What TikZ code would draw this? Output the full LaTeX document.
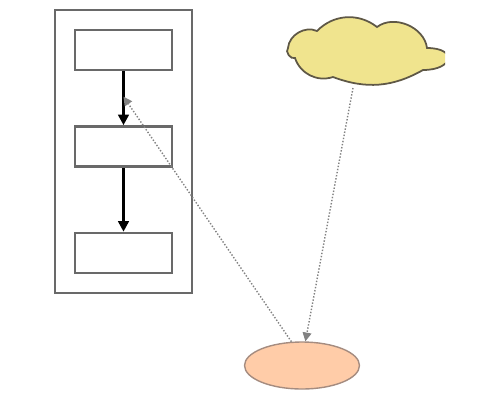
\documentclass[tikz,border=0pt]{standalone}
\usepackage{xcolor}
\usepackage{tikz}
\usetikzlibrary{positioning, arrows.meta, shapes.geometric}
\definecolor{framecolor}{RGB}{105,105,105}
\definecolor{cloudcolor}{RGB}{240,228,142}
\definecolor{cloudline}{RGB}{95,88,70}
\definecolor{ellcolor}{RGB}{255,204,168}
\definecolor{ellline}{RGB}{165,140,128}
\definecolor{linkcolor}{RGB}{130,130,130}

\begin{document}
\begin{tikzpicture}[x=0.02cm, y=-0.02cm]
    \useasboundingbox (0,0) rectangle (500,400);
    % outer frame with the three boxes
    \node[rectangle, draw=framecolor, line width=1.3pt, minimum width=2.74cm, minimum height=5.66cm] (frame) at (123.5,151.5) {};
    \node[rectangle, draw=framecolor, line width=1.5pt, minimum width=1.94cm, minimum height=0.8cm] (boxa) at (123.5,50) {};
    \node[rectangle, draw=framecolor, line width=1.5pt, minimum width=1.94cm, minimum height=0.8cm] (boxb) at (123.5,146.5) {};
    \node[rectangle, draw=framecolor, line width=1.5pt, minimum width=1.94cm, minimum height=0.8cm] (boxc) at (123.5,253) {};
    \draw[-{Triangle[length=6pt, width=6pt]}, line width=1.7pt] (boxa.south) -- coordinate[pos=0.47] (hit) (boxb.north);
    \draw[-{Triangle[length=6pt, width=6pt]}, line width=1.7pt] (boxb.south) -- (boxc.north);
    % cloud, cut off at the right
    \begin{scope}
        \clip (0,0) rectangle (445,400);
        \draw[draw=cloudline, line width=1pt, fill=cloudcolor]
            (288,48) to[bend left=55] (317,31) to[bend left=42] (377,27)
            to[bend left=60] (427,48) to[out=0, in=0, looseness=3.5] (423,70)
            to[bend left=25] (333,77) to[bend left=45] (295,58)
            to[bend left=80] cycle;
    \end{scope}
    \coordinate (cloudfoot) at (353,88);
    % ellipse
    \node[ellipse, draw=ellline, line width=0.8pt, fill=ellcolor, minimum width=2.3cm, minimum height=0.94cm] (ell) at (302,365.5) {};
    % dotted links
    \draw[-{Triangle[length=5pt, width=5pt]}, densely dotted, linkcolor, line width=0.8pt] (cloudfoot) -- (ell.82);
    \draw[-{Triangle[length=5pt, width=5pt]}, densely dotted, linkcolor, line width=0.8pt] (ell.114) -- (hit);
\end{tikzpicture}
\end{document}
